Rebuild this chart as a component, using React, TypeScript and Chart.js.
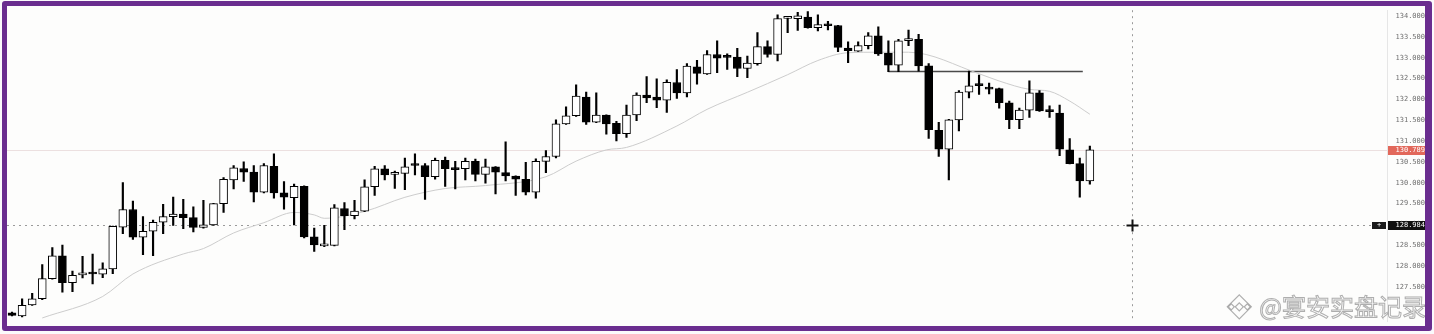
import React, { useEffect, useRef } from 'react';
import { Chart, registerables } from 'chart.js';

Chart.register(...registerables);

// ---- data ----
const opens = [
  126.882, 126.805, 127.069, 127.219, 127.702, 128.250, 127.601, 127.789, 127.820, 127.805,
  127.936, 128.937, 129.359, 128.696, 128.837, 129.054, 129.188, 129.249, 129.165, 128.930,
  128.991, 129.500, 130.069, 130.344, 130.257, 129.774, 130.398, 129.758, 129.641, 129.915,
  128.703, 128.485, 128.499, 129.383, 129.212, 129.320, 129.905, 130.337, 130.203, 130.227,
  130.430, 130.414, 130.149, 130.538, 130.325, 130.337, 130.515, 130.203, 130.383, 130.243,
  130.163, 130.086, 129.774, 130.515, 130.632, 131.415, 131.609, 132.055, 131.452, 131.626,
  131.429, 131.181, 131.626, 132.102, 132.055, 131.984, 132.406, 132.156, 132.781, 132.610,
  133.079, 133.020, 133.016, 132.742, 132.859, 133.267, 133.079, 133.945, 133.937, 133.977,
  133.719, 133.778, 133.773, 133.234, 133.156, 133.290, 133.524, 133.110, 132.821, 133.407,
  133.445, 132.805, 131.258, 130.805, 131.509, 132.172, 132.341, 132.296, 132.259, 131.921,
  131.516, 131.743, 132.156, 131.715, 131.673, 130.789, 130.461, 130.046,
];
const highs = [
  126.898, 127.219, 127.350, 128.039, 128.445, 128.508, 127.882, 128.234, 128.288, 128.077,
  128.960, 130.008, 129.563, 129.188, 129.108, 129.483, 129.657, 129.601, 129.422, 129.577,
  129.510, 130.126, 130.414, 130.501, 130.414, 130.461, 130.695, 130.032, 129.969, 129.930,
  128.914, 128.977, 129.477, 129.523, 129.577, 130.069, 130.398, 130.414, 130.280, 130.594,
  130.695, 130.461, 130.594, 130.618, 130.515, 130.594, 130.571, 130.571, 130.390, 130.984,
  130.170, 130.491, 130.578, 130.773, 131.509, 131.820, 132.352, 132.179, 132.156, 131.630,
  131.476, 131.867, 132.156, 132.547, 132.493, 132.470, 132.718, 132.859, 132.938, 133.173,
  133.407, 133.093, 133.227, 133.039, 133.602, 133.407, 134.031, 133.993, 134.087, 134.110,
  134.031, 133.876, 133.780, 133.384, 133.384, 133.602, 133.742, 133.407, 133.445, 133.665,
  133.562, 132.859, 131.452, 131.520, 132.212, 132.681, 132.587, 132.390, 132.270, 131.961,
  131.790, 132.446, 132.212, 131.844, 131.867, 131.063, 130.594, 130.883,
];
const lows = [
  126.805, 126.781, 127.055, 127.196, 127.690, 127.374, 127.390, 127.718, 127.571, 127.725,
  127.819, 128.780, 128.640, 128.274, 128.250, 128.780, 128.977, 128.897, 128.820, 128.914,
  128.977, 129.289, 129.851, 130.032, 129.540, 129.758, 129.634, 129.366, 128.991, 128.679,
  128.351, 128.469, 128.485, 128.874, 129.132, 129.306, 129.695, 130.069, 129.868, 129.835,
  130.187, 129.601, 130.086, 129.915, 129.851, 130.069, 130.046, 129.992, 129.734, 130.046,
  129.695, 129.711, 129.634, 130.243, 130.595, 131.399, 131.593, 131.399, 131.440, 131.164,
  131.007, 131.087, 131.492, 131.921, 131.804, 131.687, 132.024, 132.062, 132.367, 132.600,
  132.641, 132.718, 132.547, 132.524, 132.821, 133.016, 132.922, 133.602, 133.656, 133.710,
  133.642, 133.665, 133.149, 132.882, 133.150, 133.210, 133.056, 132.664, 132.664, 133.290,
  132.681, 131.063, 130.632, 130.069, 131.242, 132.038, 132.118, 132.132, 131.790, 131.298,
  131.298, 131.570, 131.710, 131.570, 130.648, 130.455, 129.657, 129.969,
];
const closes = [
  126.821, 127.062, 127.219, 127.702, 128.250, 127.601, 127.782, 127.835, 127.812, 127.936,
  128.954, 129.359, 128.696, 128.837, 129.054, 129.188, 129.249, 129.165, 128.930, 128.991,
  129.500, 130.086, 130.360, 130.257, 129.774, 130.414, 129.758, 129.657, 129.915, 128.703,
  128.508, 128.499, 129.399, 129.212, 129.320, 129.905, 130.337, 130.187, 130.243, 130.383,
  130.414, 130.149, 130.538, 130.337, 130.316, 130.515, 130.203, 130.383, 130.257, 130.163,
  130.086, 129.774, 130.515, 130.632, 131.415, 131.609, 132.078, 131.452, 131.626, 131.415,
  131.181, 131.626, 132.102, 132.038, 131.984, 132.413, 132.156, 132.798, 132.624, 133.079,
  132.992, 133.011, 132.742, 132.875, 133.267, 133.079, 133.937, 133.955, 134.007, 133.719,
  133.796, 133.768, 133.250, 133.173, 133.290, 133.524, 133.093, 132.821, 133.407, 133.461,
  132.805, 131.274, 130.805, 131.509, 132.179, 132.329, 132.331, 132.249, 131.921, 131.516,
  131.743, 132.156, 131.727, 131.706, 130.805, 130.461, 130.046, 130.789,
];

// moving average, read at a few candles (index -> price)
const maIndex = [3, 9, 12, 17, 19, 22, 25, 28, 30, 31, 35, 39, 43, 47, 53, 56, 59, 61, 66, 69, 73, 77, 80, 83, 86, 89, 96, 98, 101, 103, 105, 107];
const maValue = [
  126.757, 127.273, 127.812, 128.293, 128.422, 128.797, 129.043, 129.289, 129.230, 129.148,
  129.313, 129.652, 129.863, 129.934, 130.145, 130.520, 130.789, 130.848, 131.363, 131.762,
  132.172, 132.594, 132.934, 133.121, 133.133, 133.133, 132.617, 132.442, 132.242, 132.195,
  131.961, 131.645,
];

const slotCount = 137; // candles + empty space on the right
const priceTicks = [127.5, 128, 128.5, 129, 129.5, 130, 130.5, 131, 131.5, 132, 132.5, 133, 133.5, 134];
const yMin = 126.665;
const yMax = 134.141;
const levelPrice = 132.68;
const levelFrom = 87;
const levelTo = 106.3;
const crossIndex = 111.2;
const crossPrice = 128.984;
const watermark = '@宴安实盘记录';

const PURPLE = '#6a2d8f';
const MONO = '"DejaVu Sans Mono", "Liberation Mono", monospace';

export default function App() {
  const ref = useRef<HTMLCanvasElement | null>(null);

  useEffect(() => {
    const canvas = ref.current;
    if (!canvas) return;
    const labels = Array.from({ length: slotCount }, (_, i) => String(i));
    const bodies = opens.map((o, i) => [o, closes[i]]);
    const wicks = lows.map((l, i) => [l, highs[i]]);
    const bodyColors = opens.map((o, i) => (closes[i] >= o ? '#ffffff' : '#000000'));
    const ma: (number | null)[] = opens.map(() => null);
    maIndex.forEach((k, j) => {
      ma[k] = maValue[j];
    });
    const lastPrice = closes[closes.length - 1];

    const overlay = {
      id: 'overlay',
      beforeDraw(chart: any) {
        const { ctx, width, height } = chart;
        ctx.save();
        ctx.fillStyle = '#fdfdfc';
        ctx.fillRect(0, 0, width, height);
        ctx.restore();
      },
      beforeDatasetsDraw(chart: any) {
        const { ctx, chartArea: a, scales } = chart;
        const x = scales.x;
        const y = scales.y;
        ctx.save();
        // last price line
        const py = Math.round(y.getPixelForValue(lastPrice)) + 0.5;
        ctx.strokeStyle = '#ece0e0';
        ctx.lineWidth = 1;
        ctx.beginPath();
        ctx.moveTo(a.left, py);
        ctx.lineTo(a.right, py);
        ctx.stroke();
        // crosshair dashed lines
        const cx = Math.round(x.getPixelForValue(crossIndex)) + 0.5;
        const cy = Math.round(y.getPixelForValue(crossPrice)) + 0.5;
        ctx.setLineDash([2, 4]);
        ctx.strokeStyle = '#9a9a9a';
        ctx.beginPath();
        ctx.moveTo(a.left, cy);
        ctx.lineTo(a.right, cy);
        ctx.moveTo(cx, a.top);
        ctx.lineTo(cx, a.bottom);
        ctx.stroke();
        ctx.setLineDash([]);
        // horizontal level line
        const ly = Math.round(y.getPixelForValue(levelPrice)) + 0.5;
        ctx.strokeStyle = '#4a4a4a';
        ctx.lineWidth = 1.3;
        ctx.beginPath();
        ctx.moveTo(x.getPixelForValue(levelFrom), ly);
        ctx.lineTo(x.getPixelForValue(levelTo), ly);
        ctx.stroke();
        ctx.restore();
      },
      afterDraw(chart: any) {
        const { ctx, chartArea: a, scales, width } = chart;
        const x = scales.x;
        const y = scales.y;
        ctx.save();
        // crosshair center
        const cx = Math.round(x.getPixelForValue(crossIndex)) + 0.5;
        const cy = Math.round(y.getPixelForValue(crossPrice)) + 0.5;
        ctx.strokeStyle = '#111';
        ctx.lineWidth = 2;
        ctx.beginPath();
        ctx.moveTo(cx - 6, cy);
        ctx.lineTo(cx + 6, cy);
        ctx.moveTo(cx, cy - 6);
        ctx.lineTo(cx, cy + 6);
        ctx.stroke();

        ctx.font = `7px ${MONO}`;
        ctx.textBaseline = 'middle';
        ctx.textAlign = 'right';
        // last price label
        const py = Math.round(y.getPixelForValue(lastPrice));
        ctx.fillStyle = '#e2685b';
        ctx.fillRect(a.right + 1, py - 4, width - a.right - 1, 9);
        ctx.fillStyle = '#ffffff';
        ctx.fillText(lastPrice.toFixed(3), width, py + 0.5);
        // crosshair price label
        const ly = Math.round(y.getPixelForValue(crossPrice));
        ctx.fillStyle = '#111111';
        ctx.fillRect(a.right + 1, ly - 4, width - a.right - 1, 9);
        ctx.fillStyle = '#ffffff';
        ctx.fillText(crossPrice.toFixed(3), width, ly + 0.5);
        // small button
        ctx.fillStyle = '#1a1a1a';
        ctx.fillRect(a.right - 15, ly - 3, 14, 7);
        ctx.fillStyle = '#ffffff';
        ctx.textAlign = 'center';
        ctx.fillText('+', a.right - 8, ly + 0.5);

        // watermark
        ctx.font = '24px "Noto Sans CJK SC", sans-serif';
        ctx.textAlign = 'right';
        ctx.textBaseline = 'alphabetic';
        const wx = width + 1;
        const wy = a.bottom - 6;
        ctx.lineWidth = 1;
        ctx.fillStyle = 'rgba(255,255,255,0.85)';
        ctx.fillText(watermark, wx, wy);
        ctx.strokeStyle = 'rgba(160,160,160,0.85)';
        ctx.strokeText(watermark, wx, wy);
        const tw = ctx.measureText(watermark).width;
        // logo (diamond)
        const lx = wx - tw - 20;
        const lyc = wy - 9;
        ctx.strokeStyle = 'rgba(160,160,160,0.85)';
        ctx.lineWidth = 1.2;
        const diamond = (r: number, ox: number, oy: number) => {
          ctx.beginPath();
          ctx.moveTo(ox, oy - r);
          ctx.lineTo(ox + r, oy);
          ctx.lineTo(ox, oy + r);
          ctx.lineTo(ox - r, oy);
          ctx.closePath();
          ctx.stroke();
        };
        diamond(12, lx, lyc);
        diamond(4, lx, lyc);
        diamond(3, lx - 8, lyc);
        diamond(3, lx + 8, lyc);
        ctx.restore();
      },
    };

    const chart = new Chart(canvas, {
      type: 'bar',
      data: {
        labels,
        datasets: [
          {
            type: 'bar',
            label: 'body',
            data: bodies as any,
            backgroundColor: bodyColors,
            borderColor: '#000000',
            borderWidth: 1,
            borderSkipped: false,
            barThickness: 8,
            minBarLength: 2,
            grouped: false,
            order: 0,
          } as any,
          {
            type: 'bar',
            label: 'wick',
            data: wicks as any,
            backgroundColor: '#000000',
            borderWidth: 0,
            barThickness: 1.5,
            minBarLength: 1,
            grouped: false,
            order: 1,
          } as any,
          {
            type: 'line',
            label: 'ma',
            data: ma,
            borderColor: '#cdcdcd',
            borderWidth: 1,
            pointRadius: 0,
            spanGaps: true,
            cubicInterpolationMode: 'monotone',
            order: 2,
          } as any,
        ],
      },
      options: {
        animation: false,
        responsive: false,
        maintainAspectRatio: false,
        layout: { padding: { top: 1, left: 0, right: 0, bottom: 0 } },
        plugins: { legend: { display: false }, tooltip: { enabled: false } },
        events: [],
        scales: {
          x: { type: 'category', display: false, offset: true, grid: { display: false } },
          y: {
            position: 'right',
            min: yMin,
            max: yMax,
            afterFit: (s: any) => {
              s.width = 38;
            },
            afterBuildTicks: (s: any) => {
              s.ticks = priceTicks.map((v) => ({ value: v }));
            },
            ticks: {
              callback: (v: any) => Number(v).toFixed(3),
              font: { family: MONO, size: 7 },
              color: '#6f6f6f',
              crossAlign: 'far',
              padding: 0,
              autoSkip: false,
            },
            grid: { display: false, drawTicks: false },
            border: { display: true, color: '#e6e6e6' },
          } as any,
        },
      },
      plugins: [overlay],
    });
    return () => chart.destroy();
  }, []);

  return (
    <div style={{ position: 'fixed', left: 0, top: 0, width: 1434, height: 334, background: '#fbfafc' }}>
      <div
        style={{
          position: 'absolute',
          left: 2,
          top: 1,
          width: 1430,
          height: 330,
          boxSizing: 'border-box',
          borderStyle: 'solid',
          borderColor: PURPLE,
          borderWidth: '5px 7px 5px 5px',
          borderRadius: 3,
          background: '#fdfdfc',
          overflow: 'hidden',
        }}
      >
        <canvas ref={ref} width={1418} height={320} style={{ display: 'block', width: 1418, height: 320 }} />
      </div>
    </div>
  );
}
